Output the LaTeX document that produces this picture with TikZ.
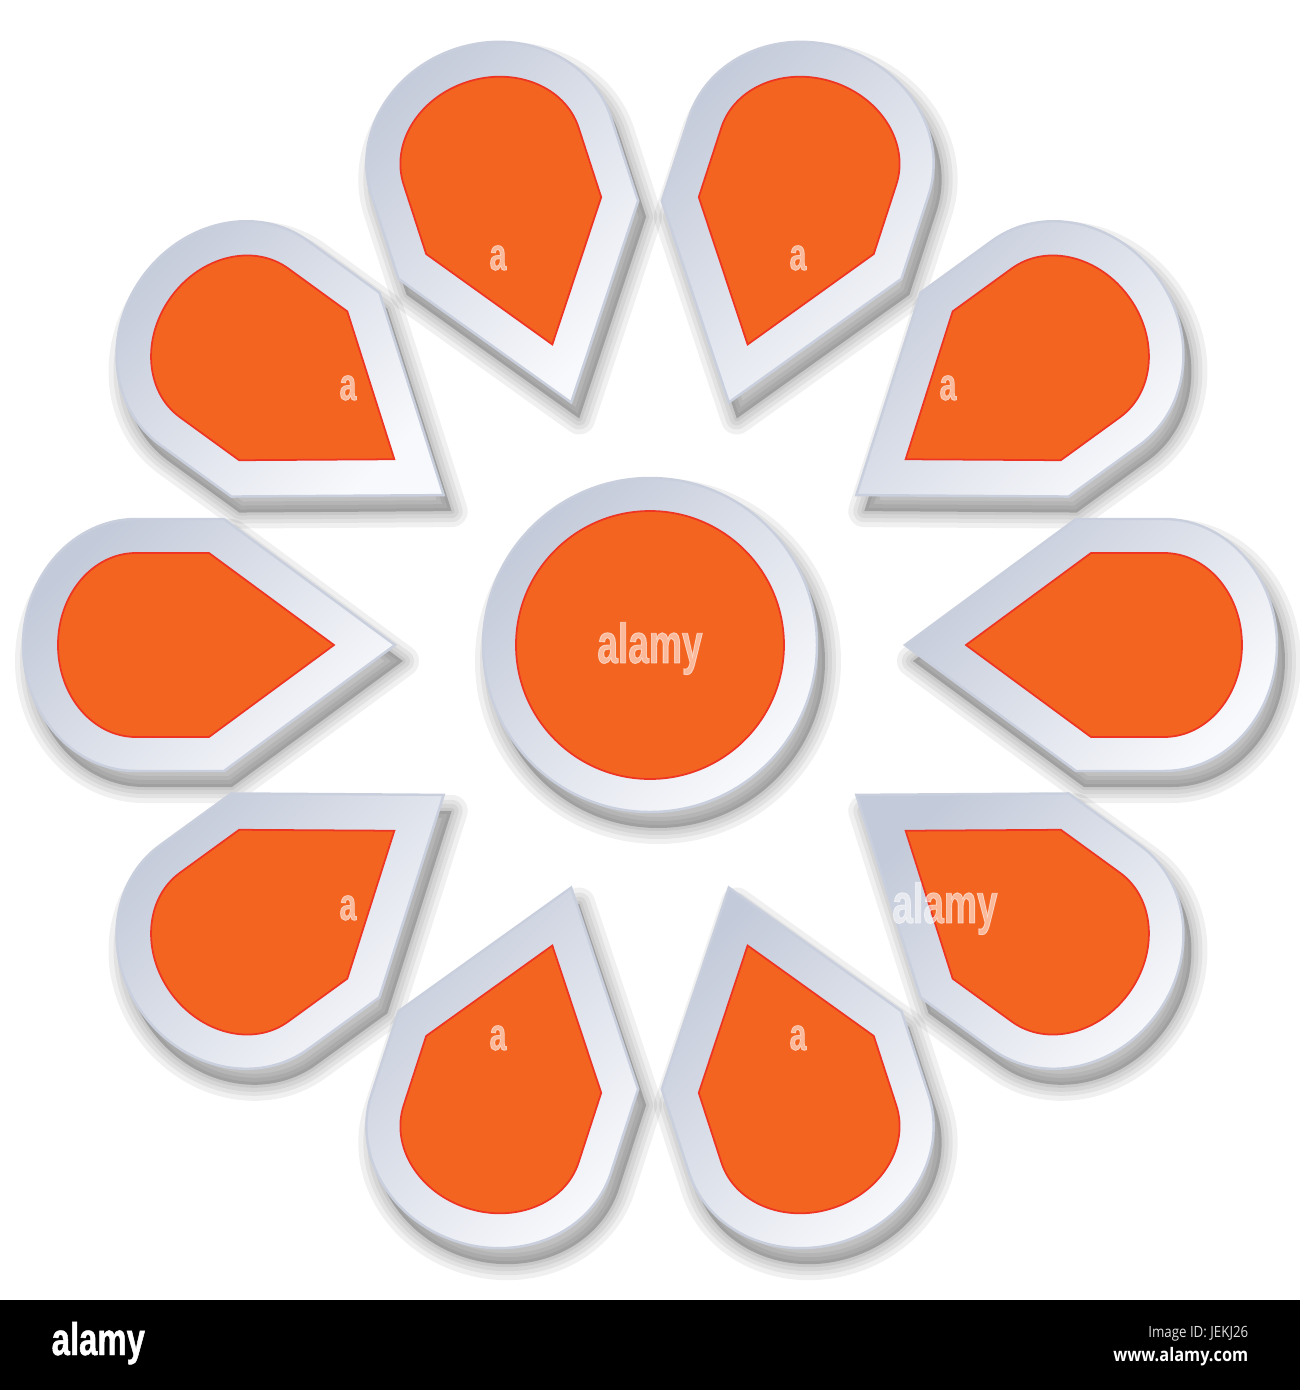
\documentclass[tikz,border=0pt]{standalone}
\usepackage{fontspec}
\setmainfont{Liberation Sans}
\newfontfamily\logofont{Liberation Sans Bold}[FakeStretch=0.66,FakeBold=1.5]
\newfontfamily\barlogofont{Liberation Sans Bold}[FakeStretch=0.72,FakeBold=1]
\newfontfamily\idfont{Open Sans}[FakeStretch=0.86]
\newfontfamily\sitefont{Open Sans Bold}[FakeStretch=0.88]
\usetikzlibrary{calc}
\definecolor{petalorange}{HTML}{F36421}
\definecolor{petalred}{HTML}{EE3524}
\definecolor{rimdark}{HTML}{C3CAD9}
\definecolor{rimlight}{HTML}{F8F9FC}
\definecolor{rimedge}{HTML}{C9CFDD}
\def\petalrim{(2.55,0) -- (4.26,1.26) -- (5.14,1.26) arc[start angle=90,end angle=-90,x radius=1.13,y radius=1.26] -- (4.26,-1.26) -- cycle}
\def\petalcore{(3.16,0) -- (4.41,0.92) -- (5.14,0.92) arc[start angle=90,end angle=-90,x radius=0.78,y radius=0.92] -- (4.41,-0.92) -- cycle}
\tikzset{
	rim/.style={draw=rimedge, line width=0.7pt, top color=rimdark, bottom color=rimlight, shading angle=45},
	core/.style={fill=petalorange, draw=petalred, line width=0.5pt},
	shadowlayer/.style={draw=black, draw opacity=0.06, line width=#1, line join=round},
	watermark/.style={text=white, text opacity=0.55, inner sep=0pt}
}

\begin{document}
\begin{tikzpicture}
	%%%%% START %%%%%
	\useasboundingbox (-6.5,-7.45) rectangle (6.5,6.45);
	
	% soft shadows under the petals and the disc
	\foreach \a in {0,36,...,324} {
		\begin{scope}[shift={(0.08,-0.16)}, rotate=\a]
			\fill[black, opacity=0.2] \petalrim;
			\foreach \w in {3.2mm,2.2mm,1.4mm,0.6mm} \draw[shadowlayer=\w] \petalrim;
		\end{scope}
	}
	\begin{scope}[shift={(0.08,-0.16)}]
		\fill[black, opacity=0.2] (0,0) circle (1.67);
		\foreach \w in {3.2mm,2.2mm,1.4mm,0.6mm} \draw[shadowlayer=\w] (0,0) circle (1.67);
	\end{scope}
	
	% petals
	\foreach \a in {0,36,...,324} {
		\begin{scope}[rotate=\a]
			\draw[rim] \petalrim;
			\draw[core] \petalcore;
		\end{scope}
	}
	
	% disc
	\draw[rim] (0,0) circle (1.67);
	\draw[core] (0,0) circle (1.34);
	
	\node[watermark, anchor=base, font=\logofont\fontsize{16}{16}\selectfont] (logo) at (0,-0.18) {alamy};
	\node[watermark, anchor=base, font=\logofont\fontsize{16}{16}\selectfont] (logo2) at (2.95,-2.78) {alamy};
	\foreach \x/\y [count=\i] in {-1.52/3.87, 1.48/3.87, -3.02/2.57, 2.98/2.57, -3.02/-2.63, -1.52/-3.93, 1.48/-3.93}
		\node[watermark, font=\logofont\fontsize{13}{13}\selectfont] (mark\i) at (\x,\y) {a};
	
	% bottom bar
	\fill[black] (-6.5,-6.55) rectangle (6.5,-7.45);
	\node[text=white, anchor=base west, inner sep=0pt, font=\barlogofont\fontsize{13}{13}\selectfont] (barlogo) at (-5.99,-7.10) {alamy};
	\node[text=white!88!black, anchor=base east, inner sep=0pt, font=\idfont\fontsize{4.4}{5}\selectfont] (imageid) at (5.99,-6.92) {Image ID: JEKJ26};
	\node[text=white, anchor=base east, inner sep=0pt, font=\sitefont\fontsize{5.3}{6}\selectfont] (site) at (5.99,-7.16) {www.alamy.com};
	
	%%%%% END %%%%%
\end{tikzpicture}
\end{document}
